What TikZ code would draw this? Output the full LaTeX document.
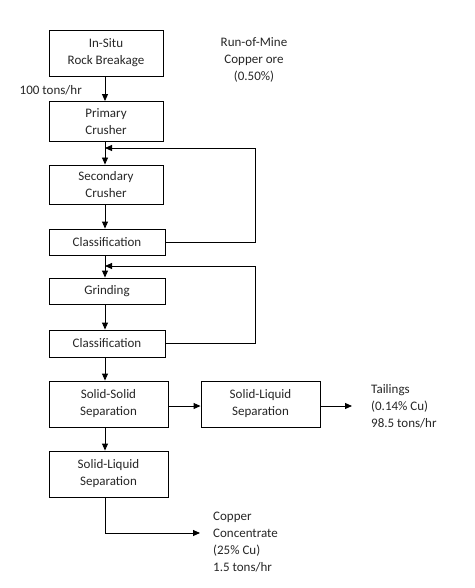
\documentclass[tikz,border=0pt]{standalone}
\usepackage{fontspec}
\setmainfont{Carlito}
\usetikzlibrary{arrows.meta}
\begin{document}
\begin{tikzpicture}[x=1pt,y=-1pt,
  proc/.style={draw=black,line width=0.9pt,rectangle,align=center,inner sep=0pt,
    font=\fontsize{13}{17}\selectfont,text=black!85},
  lbl/.style={align=left,inner sep=0pt,font=\fontsize{13}{17}\selectfont,text=black!85},
  arr/.style={line width=0.9pt,-{Triangle[length=7pt,width=6pt]}},
  ln/.style={line width=0.9pt}]
\useasboundingbox (0,0) rectangle (474,588);
\node[proc,minimum width=114pt,minimum height=46pt] (b1) at (106,53) {In-Situ\\Rock Breakage};
\node[proc,minimum width=114pt,minimum height=40pt] (b2) at (106,121.5) {Primary\\Crusher};
\node[proc,minimum width=114pt,minimum height=39pt] (b3) at (106,184.5) {Secondary\\Crusher};
\node[proc,minimum width=116pt,minimum height=26pt] (c1) at (107,242) {Classification};
\node[proc,minimum width=116pt,minimum height=26pt] (g) at (107,291) {Grinding};
\node[proc,minimum width=116pt,minimum height=27pt] (c2) at (107,343.5) {Classification};
\node[proc,minimum width=119pt,minimum height=46pt] (ss) at (108.5,404) {Solid-Solid\\Separation};
\node[proc,minimum width=119pt,minimum height=46pt] (sl1) at (260.5,404) {Solid-Liquid\\Separation};
\node[proc,minimum width=119pt,minimum height=46pt] (sl2) at (108.5,474) {Solid-Liquid\\Separation};
\node[lbl,anchor=east] (t100) at (82,90) {100 tons/hr};
\node[lbl,align=center] (rom) at (254,60) {Run-of-Mine\\Copper ore\\(0.50\%)};
\node[lbl,anchor=north west] (tail) at (371,384) {Tailings\\(0.14\% Cu)\\98.5 tons/hr};
\node[lbl,anchor=north west] (conc) at (213,512) {Copper\\Concentrate\\(25\% Cu)\\1.5 tons/hr};
\coordinate (ax) at (105,0);
\coordinate (r1) at (255,148);
\coordinate (r2) at (255,266);
\coordinate (m1) at (105,148);
\coordinate (m2) at (105,266);
\coordinate (tl) at (352,406);
\coordinate (cb) at (105,533);
\coordinate (ce) at (200,533);
\draw[arr] (b1.south -| ax) -- (b2.north -| ax);
\draw[arr] (b2.south -| ax) -- (b3.north -| ax);
\draw[arr] (b3.south -| ax) -- (c1.north -| ax);
\draw[arr] (c1.south -| ax) -- (g.north -| ax);
\draw[arr] (g.south -| ax) -- (c2.north -| ax);
\draw[arr] (c2.south -| ax) -- (ss.north -| ax);
\draw[arr] (ss.south -| ax) -- (sl2.north -| ax);
\draw[arr] (c1.east) -- (c1.east -| r1) -- (r1) -- (m1);
\draw[arr] (c2.east) -- (c2.east -| r2) -- (r2) -- (m2);
\draw[arr] (ss.east |- tl) -- (sl1.west |- tl);
\draw[arr] (sl1.east |- tl) -- (tl);
\draw[arr] (sl2.south -| cb) -- (cb) -- (ce);
\end{tikzpicture}
\end{document}
